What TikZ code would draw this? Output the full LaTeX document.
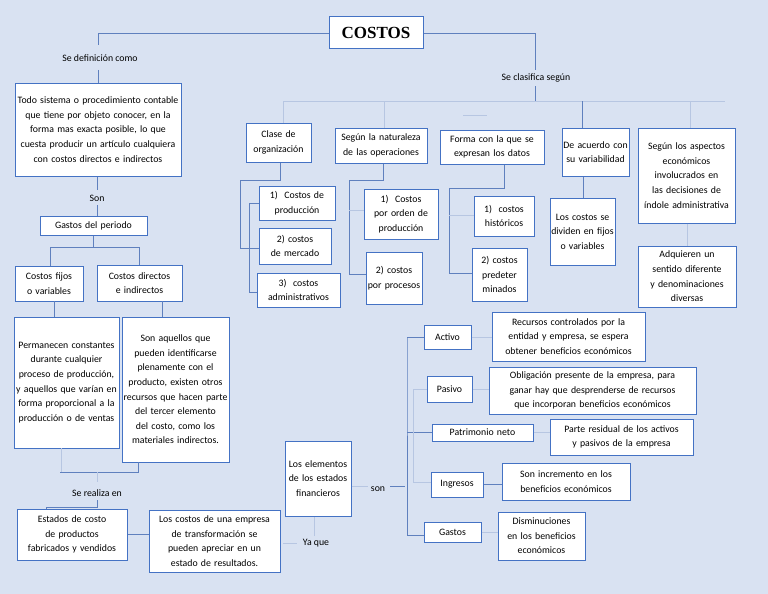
\documentclass[tikz,border=0pt]{standalone}
\usepackage{fontspec}
\setmainfont{Carlito}
\newfontfamily\titlefont{Liberation Serif}
\definecolor{bg}{RGB}{217,226,242}
\definecolor{bd}{RGB}{68,114,196}
\definecolor{ln}{RGB}{95,128,190}
\hyphenpenalty=10000
\exhyphenpenalty=10000
\lefthyphenmin=64
\newcommand\bx[6]{%
  \pgfmathsetmacro\bw{#4-#2}\pgfmathsetmacro\bh{#5-#3}\pgfmathsetmacro\tw{#4-#2-2}%
  \node[box,minimum width=\bw pt,minimum height=\bh pt,text width=\tw pt] (#1) at ({(#2+#4)/2},{(#3+#5)/2}) {#6};}
\begin{document}
\begin{tikzpicture}[x=1pt,y=-1pt,
  box/.style={draw=bd,fill=white,line width=1pt,inner sep=0pt,align=center,font=\fontsize{9.8}{14.6}\selectfont},
  lbl/.style={fill=bg,inner sep=1.5pt,font=\fontsize{9.8}{10}\selectfont},
  cn/.style={draw=ln,line width=0.9pt},
  cnl/.style={draw=ln!45,line width=0.9pt}]
\fill[bg] (0,0) rectangle (768,594);
\useasboundingbox (0,0) rectangle (768,594);
% boxes
\node[box,minimum width=94pt,minimum height=32pt,font=\titlefont\bfseries\fontsize{17}{18}\selectfont] (costos) at (376,33) {COSTOS};
\bx{def}{15}{83}{181}{176}{Todo sistema o procedimiento contable que tiene por objeto conocer, en la forma mas exacta posible, lo que cuesta producir un artículo cualquiera con costos directos e indirectos}
\bx{gastosp}{40}{216}{147}{235}{Gastos del periodo}
\bx{fijos}{15}{266}{83}{301}{Costos fijos o variables}
\bx{direct}{97}{265}{182}{301}{Costos directos e indirectos}
\bx{perm}{14}{317}{119}{448}{Permanecen constantes durante cualquier proceso de producción, y aquellos que varían en forma proporcional a la producción o de ventas}
\bx{sonaq}{122}{317}{229}{462}{Son aquellos que pueden identificarse plenamente con el producto, existen otros recursos que hacen parte del tercer elemento del costo, como los materiales indirectos.}
\bx{estados}{17}{509}{127}{560}{Estados de costo de productos fabricados y vendidos}
\bx{empresa}{149}{510}{280}{572}{Los costos de una empresa de transformación se pueden apreciar en un estado de resultados.}
\bx{elem}{285}{441}{351}{516}{Los elementos de los estados financieros}
\bx{activo}{424}{325}{471}{349}{Activo}
\bx{pasivo}{427}{376}{472}{402}{Pasivo}
\bx{patri}{432}{424}{533}{441}{Patrimonio neto}
\bx{ingr}{431}{472}{483}{497}{Ingresos}
\bx{gast}{424}{522}{481}{542}{Gastos}
\bx{recur}{492}{312}{645}{361}{Recursos controlados por la entidad y empresa, se espera obtener beneficios económicos}
\bx{oblig}{489}{367}{696}{414}{Obligación presente de la empresa, para ganar hay que desprenderse de recursos que incorporan beneficios económicos}
\bx{resid}{550}{419}{693}{455}{Parte residual de los activos y pasivos de la empresa}
\bx{incr}{502}{463}{630}{500}{Son incremento en los beneficios económicos}
\bx{dism}{498}{512}{585}{560}{Disminuciones en los beneficios económicos}
\bx{clase}{246}{123}{311}{162}{Clase de organización}
\bx{natur}{335}{128}{427}{163}{Según la naturaleza de las operaciones}
\bx{forma}{440}{130}{544}{164}{Forma con la que se expresan los datos}
\bx{acuerdo}{562}{128}{629}{176}{De acuerdo con su variabilidad}
\bx{aspect}{638}{128}{735}{223}{Según los aspectos económicos involucrados en las decisiones de índole administrativa}
\bx{c1}{259}{186}{335}{220}{1)\ \ Costos de producción}
\bx{c2}{259}{228}{331}{264}{2) costos de mercado}
\bx{c3}{257}{273}{340}{307}{3)\ \ costos administrativos}
\bx{n1}{364}{189}{438}{239}{1)\ \ Costos por orden de producción}
\bx{n2}{366}{252}{422}{304}{2) costos por procesos}
\bx{f1}{474}{196}{534}{236}{1)\ \ costos históricos}
\bx{f2}{472}{248}{527}{301}{2) costos predeter minados}
\bx{divid}{550}{198}{615}{265}{Los costos se dividen en fijos o variables}
\bx{adqu}{638}{246}{736}{307}{Adquieren un sentido diferente y denominaciones diversas}
% left connectors
\path[cn] (costos.west) -| (98,45);
\path[cn] (98,70) -- (def.north -| 98,0);
\node[lbl] (l1) at (100,58) {Se definición como};
\path[cn] (def.south -| 97,0) -- (97,190);
\path[cn] (97,205) -- (gastosp.north -| 97,0);
\node[lbl] (l2) at (97,198) {Son};
\path[cn] (gastosp.south) -- (93.5,247);
\path[cn] (50,256) |- (139,247) -- (139,265);
\path[cn] (50,256) -- (50,266);
\path[cn] (54,301) -- (54,317);
\path[cn] (162,301) -- (162,317);
\path[cnl] (61,448) -- (61,472);
\path[cn] (60,472) -- (138,472) -- (138,462);
\path[cnl] (97,472) -- (97,482);
\node[lbl] (l3) at (97,493) {Se realiza en};
\path[cn] (97,500) -- (97,507) -- (46,507) -- (46,509);
\path[cn] (estados.east) -- (empresa.west |- estados.east);
\path[cnl] (283,543) -- (297,543);
\node[lbl] (l4) at (316,543) {Ya que};
\path[cnl] (314,536) -- (elem.south -| 314,0);
\path[cnl] (elem.east |- 0,486) -- (368,486);
\node[lbl] (l5) at (378,489) {son};
\path[cn] (390,486) -- (405,486);
\path[cn] (activo.west) -| (407,338) -- (407,535) -- (gast.west |- 0,535);
\path[cn] (407,432) -- (patri.west |- 0,432);
\path[cnl] (pasivo.west) -| (413,482) -- (ingr.west |- 0,482);
\path[cnl] (activo.east) -- (recur.west |- activo.east);
\path[cnl] (pasivo.east) -- (oblig.west |- pasivo.east);
\path[cnl] (patri.east) -- (resid.west |- patri.east);
\path[cn] (ingr.east) -- (incr.west |- ingr.east);
\path[cnl] (gast.east) -- (dism.west |- gast.east);
% right top connectors
\path[cn] (costos.east) -| (535,70);
\node[lbl] (l6) at (536,78) {Se clasifica según};
\path[cn] (535,86) -- (535,101);
\path[cnl] (283,101) -- (725,101);
\path[cnl] (283,101) -- (clase.north -| 283,0);
\path[cnl] (384,101) -- (natur.north -| 384,0);
\path[cnl] (463,115) -- (487,115);
\path[cn] (582,101) -- (acuerdo.north -| 582,0);
\path[cnl] (690,101) -- (aspect.north -| 690,0);
\path[cn] (clase.south -| 280,0) -- (280,180) -- (240,180) -- (240,248) -- (c2.west |- 0,248);
\path[cn] (c1.west |- 0,203) -- (249,203) -- (249,292) -- (c3.west |- 0,292);
\path[cn] (natur.south -| 383,0) -- (383,180) -- (349,180) -- (349,274) -- (n2.west |- 0,274);
\path[cnl] (349,210) -- (n1.west |- 0,210);
\path[cn] (forma.south -| 504,0) -- (504,188) -- (449,188) -- (449,273) -- (f2.west |- 0,273);
\path[cnl] (449,215) -- (f1.west |- 0,215);
\path[cn] (acuerdo.south -| 583,0) -- (divid.north -| 583,0);
\path[cnl] (aspect.south -| 687,0) -- (adqu.north -| 687,0);
\end{tikzpicture}
\end{document}
